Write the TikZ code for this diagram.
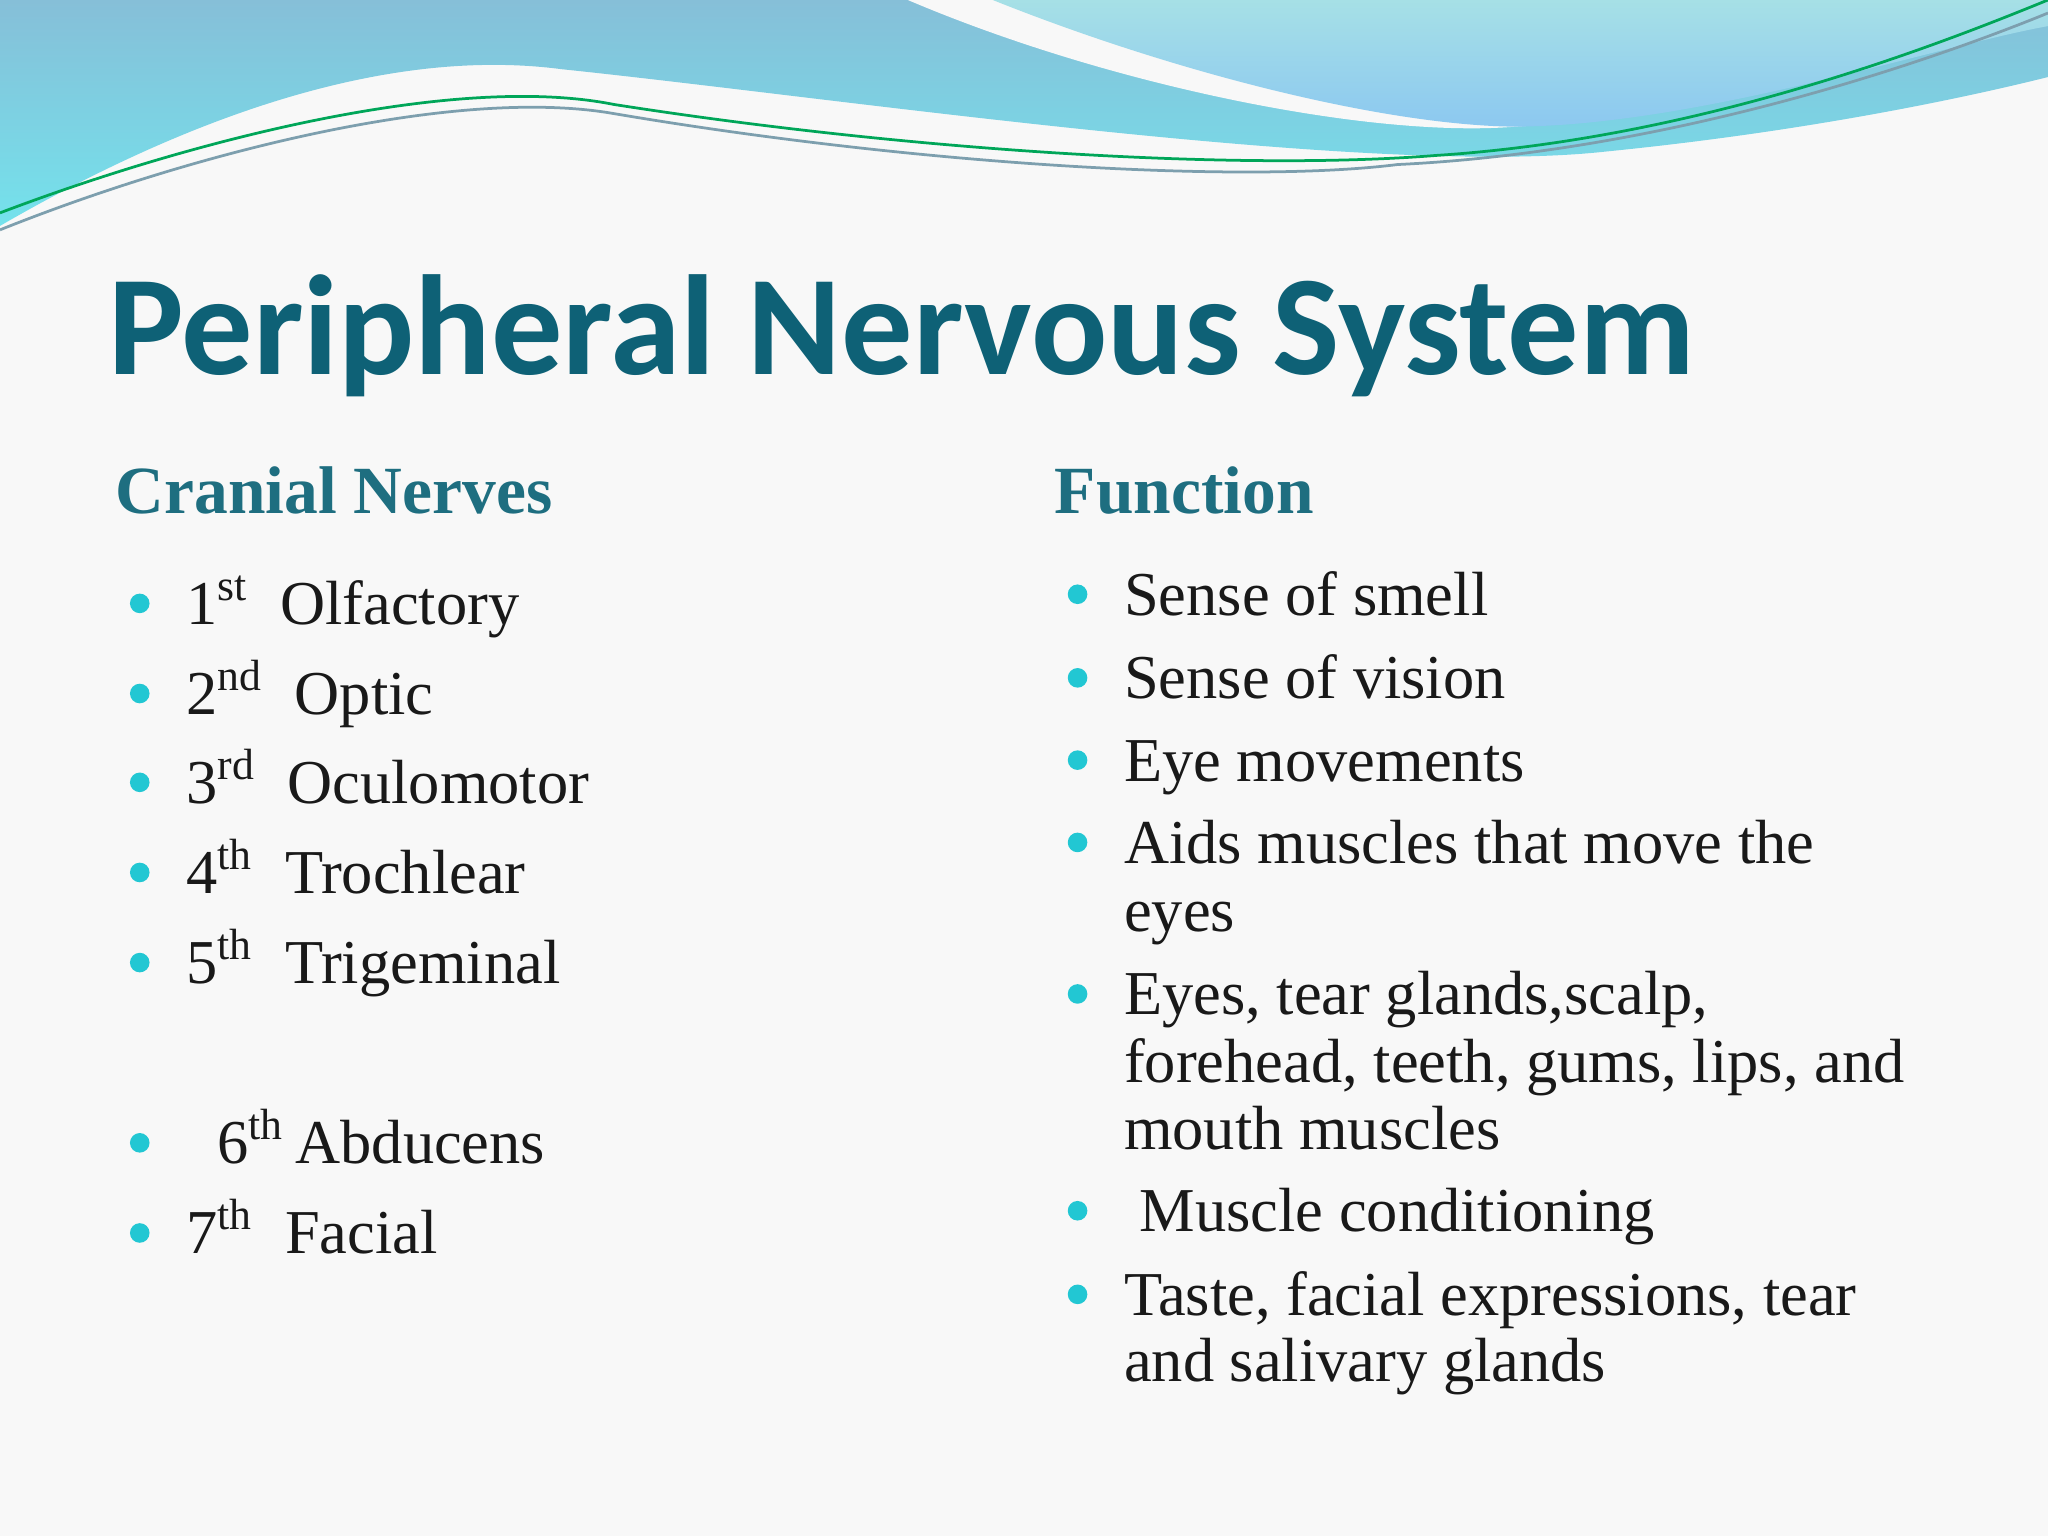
\documentclass[tikz,border=0pt]{standalone}
\usepackage{fontspec}
\setmainfont{Liberation Serif}
\newfontfamily\titlefont{Carlito}
\definecolor{titleC}{HTML}{0E6176}
\definecolor{headC}{HTML}{1E6E80}
\definecolor{bulC}{HTML}{22C7D3}
\definecolor{bgC}{HTML}{F8F8F8}
\definecolor{waveA}{HTML}{86BFD8}
\definecolor{waveB}{HTML}{74E2EC}
\definecolor{waveC}{HTML}{A6E0E6}
\definecolor{waveD}{HTML}{8CC8F0}
\begin{document}
\begin{tikzpicture}[x=1cm,y=1cm,
  item/.style={anchor=base west,inner sep=0pt,font=\fontsize{13.6}{13.6}\selectfont,text=black!90},
  head/.style={anchor=base west,inner sep=0pt,font=\bfseries\fontsize{14.7}{14.7}\selectfont,text=headC},
  bul/.style={circle,fill=bulC,inner sep=0pt,minimum size=0.15cm}]
\fill[bgC] (0,0) rectangle (15.68,11.76);
\useasboundingbox (0,0) rectangle (15.68,11.76);
% left band
\shade[top color=waveA,bottom color=waveB] (0,11.76) -- (0,10.03)
  .. controls (1.5,10.9) and (3.0,11.4) .. (4.3,11.23)
  .. controls (6.5,11.0) and (10.5,10.4) .. (12.3,10.6)
  .. controls (13.8,10.75) and (15.0,11.0) .. (15.68,11.17) -- (15.68,11.76) -- cycle;
% white swoosh
\fill[bgC] (6.95,11.76) .. controls (8.5,11.1) and (10.5,10.7) .. (11.6,10.79)
  .. controls (13.5,10.9) and (15.0,11.5) .. (15.68,11.66) -- (15.68,11.76) -- cycle;
% light region
\shade[top color=waveC,bottom color=waveD] (7.6,11.76) .. controls (9.0,11.2) and (10.6,10.8) .. (11.6,10.79)
  .. controls (13.0,10.8) and (14.8,11.4) .. (15.68,11.56) -- (15.68,11.76) -- cycle;
% lines
\draw[teal!70!green,line width=0.6pt] (0,10.13) .. controls (1.5,10.7) and (3.5,11.2) .. (4.7,10.96)
  .. controls (7,10.6) and (9.5,10.45) .. (11,10.57) .. controls (13,10.7) and (14.8,11.4) .. (15.68,11.76);
\draw[gray!70!cyan,line width=0.6pt] (0,10.0) .. controls (1.5,10.6) and (3.5,11.1) .. (4.7,10.89)
  .. controls (7,10.5) and (9.5,10.35) .. (10.7,10.5) .. controls (12.8,10.6) and (14.8,11.3) .. (15.68,11.66);
% title
\node[anchor=base west,inner sep=0pt,text=titleC,font=\titlefont\bfseries\fontsize{31}{31}\selectfont] (title) at (0.82,8.89) {Peripheral Nervous System};
\node[head] (h1) at (0.88,7.83) {Cranial Nerves};
\node[head] (h2) at (8.07,7.83) {Function};
% left items
\foreach \n/\y/\t in {a/4.78/1\textsuperscript{st}\ \ Olfactory, b/5.47/2\textsuperscript{nd}\ \ Optic, c/6.15/3\textsuperscript{rd}\ \ Oculomotor, d/6.84/4\textsuperscript{th}\ \ Trochlear, e/7.53/5\textsuperscript{th}\ \ Trigeminal, f/8.91/\ \ 6\textsuperscript{th}\,Abducens, g/9.60/7\textsuperscript{th}\ \ Facial}{
  \node[item] (l\n) at (1.42,11.76-\y) {\t};
  \node[bul] (lb\n) at (1.07,11.76-\y+0.16) {};
}
% right items
\foreach \n/\y/\t in {a/4.71/Sense of smell, b/5.35/Sense of vision, c/5.98/Eye movements, d/6.61/Aids muscles that move the, e/7.77/Eyes{,} tear glands{,}scalp{,}, f/9.43/\ Muscle conditioning, g/10.07/Taste{,} facial expressions{,} tear}{
  \node[item] (r\n) at (8.60,11.76-\y) {\t};
  \node[bul] (rb\n) at (8.25,11.76-\y+0.16) {};
}
\node[item] (rd2) at (8.60,11.76-7.13) {eyes};
\node[item] (re2) at (8.60,11.76-8.29) {forehead, teeth, gums, lips, and};
\node[item] (re3) at (8.60,11.76-8.80) {mouth muscles};
\node[item] (rg2) at (8.60,11.76-10.58) {and salivary glands};
\end{tikzpicture}
\end{document}
